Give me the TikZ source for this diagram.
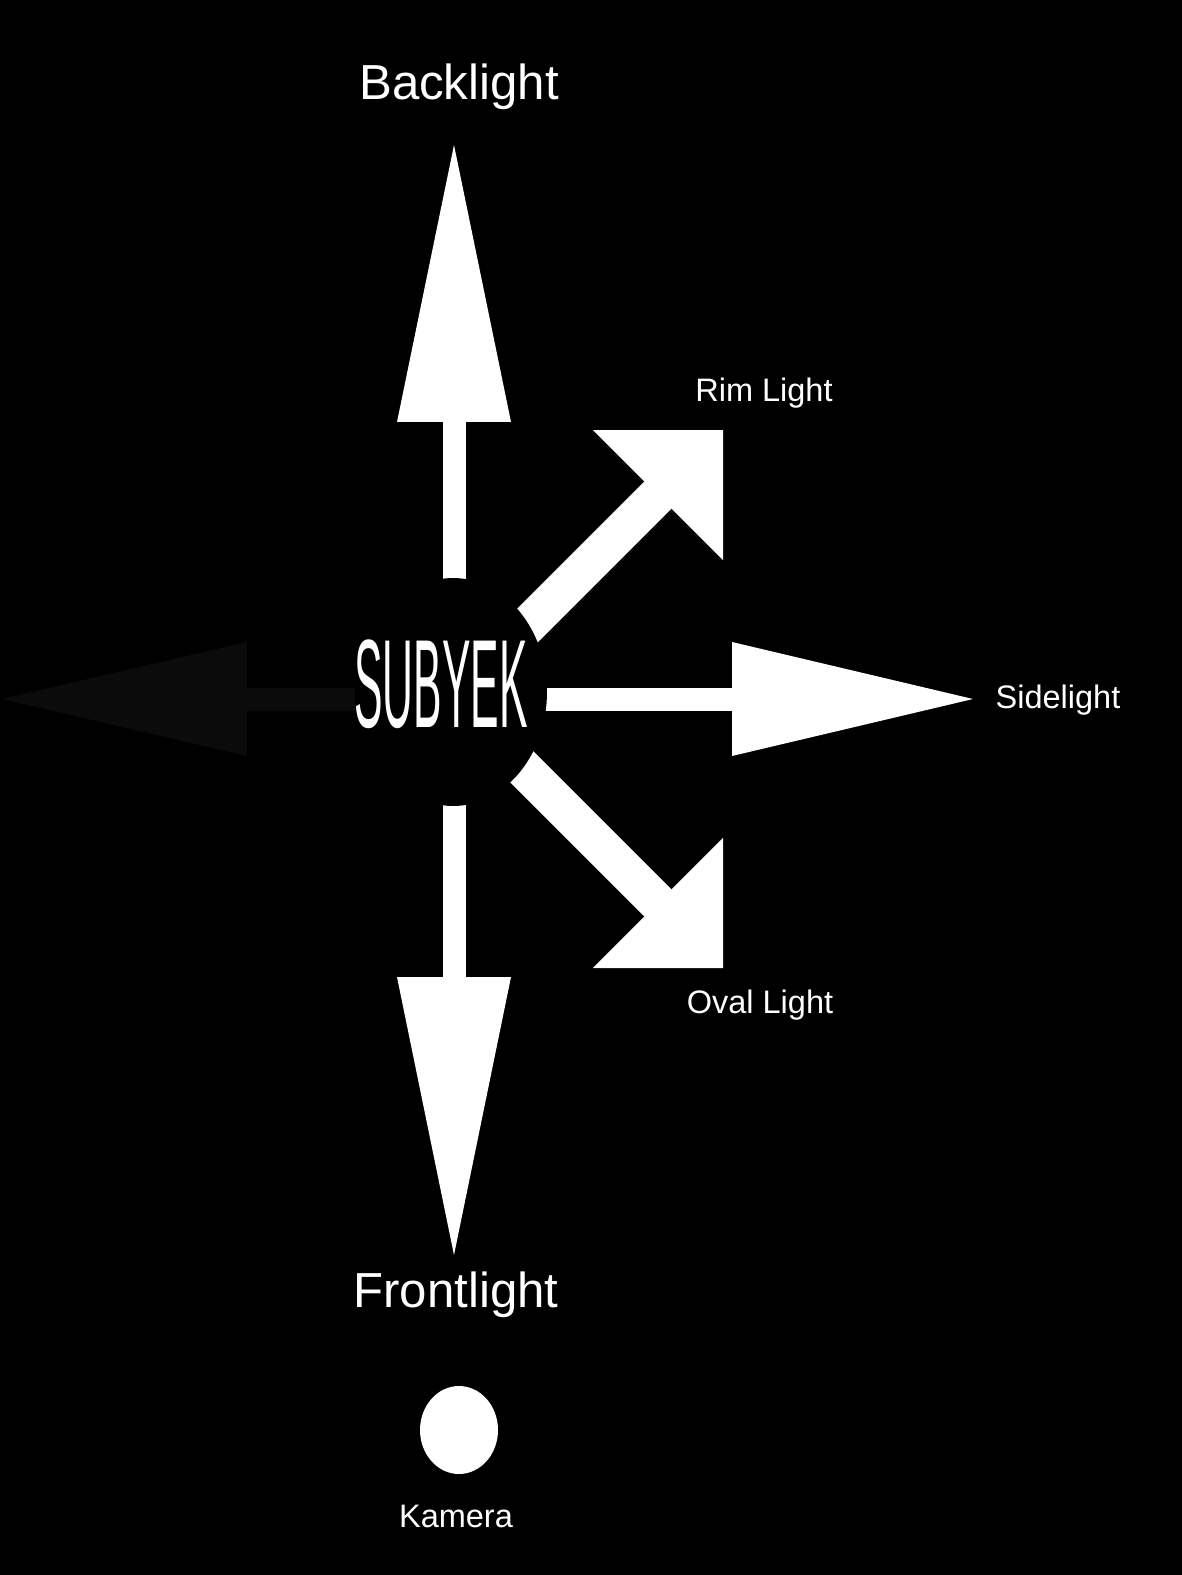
\documentclass[tikz,border=0pt]{standalone}
\usepackage{graphicx}
\usepackage{fontspec}
\setmainfont{Liberation Sans}
\usetikzlibrary{arrows.meta,shapes.geometric}

\definecolor{ghostgray}{gray}{0.045}

\tikzset{
  lbl/.style={text=white,anchor=base,inner sep=0pt,font=\fontsize{18.5}{22}\selectfont},
  biglbl/.style={lbl,font=\fontsize{28}{34}\selectfont},
  fat/.style={white,line width=0.46cm,-{Triangle[length=#1,width=2.28cm,line width=0pt]},
    postaction={draw,-,shorten >=#1-0.1cm}},
  diag/.style={white,line width=0.76cm,-{Triangle[length=1.84cm,width=3.68cm,line width=0pt]},
    postaction={draw,-,shorten >=1.7cm}},
  ghost/.style={color=ghostgray},
}

\begin{document}
\begin{tikzpicture}[x=0.02cm,y=-0.02cm]
\useasboundingbox (0,0) rectangle (1181,1575);
\fill[black] (-10,-10) rectangle (1191,1585);

% ends of the light arrows
\coordinate (ctr)   at (454,699);
\coordinate (tipB)  at (454,145);
\coordinate (tipF)  at (454,1255);
\coordinate (tipS)  at (973,699);
\coordinate (tipR)  at (723,430);
\coordinate (tipO)  at (723,968);
\coordinate (tailL) at (355,699);
\coordinate (tipL)  at (2,699);

\draw[fat=5.54cm] (ctr) -- (tipB);
\draw[fat=5.56cm] (ctr) -- (tipF);
\draw[fat=4.82cm] (ctr) -- (tipS);
\draw[diag]       (ctr) -- (tipR);
\draw[diag]       (ctr) -- (tipO);
\draw[fat=4.9cm,ghost] (tailL) -- (tipL);

% subject in the middle
\node[ellipse,fill=black,inner sep=0pt,minimum width=3.76cm,minimum height=4.56cm]
    (hole) at (453,692) {};
\node[text=white,anchor=base,inner sep=0pt,font=\fontsize{71.5}{80}\selectfont]
    (subj) at (441,727) {\scalebox{0.34}[1]{SUBYEK}};

\node[biglbl] (back)  at (459,100)  {Backlight};
\node[biglbl] (front) at (456,1307) {Frontlight};
\node[lbl]    (rim)   at (764,401)  {Rim Light};
\node[lbl]    (oval)  at (760,1013) {Oval Light};
\node[lbl]    (side)  at (1058,708) {Sidelight};

% camera
\node[ellipse,fill=white,inner sep=0pt,minimum width=1.56cm,minimum height=1.76cm]
    (cam) at (459,1430) {};
\node[lbl]    (kam)   at (456,1527) {Kamera};
\end{tikzpicture}
\end{document}
